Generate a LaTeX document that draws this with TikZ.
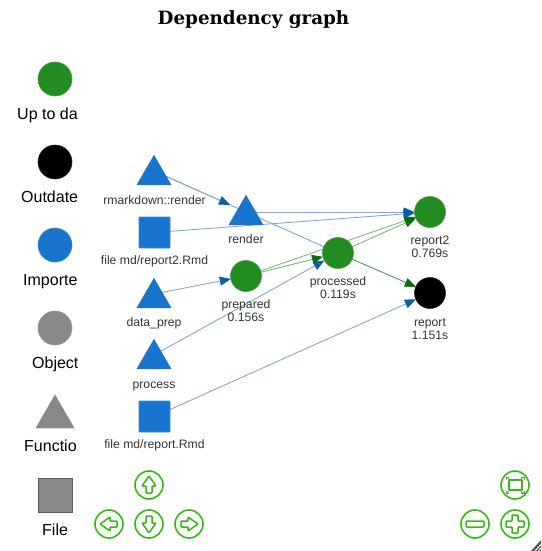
\documentclass[tikz,border=0pt]{standalone}
\usepackage{fontspec}
\setmainfont{Liberation Sans}
\newfontfamily\titlefont{DejaVu Serif}
\usetikzlibrary{shapes.geometric,arrows.meta,backgrounds}
\definecolor{ngreen}{HTML}{228B22}
\definecolor{nblue}{HTML}{1874CD}
\definecolor{ngrey}{HTML}{888888}
\definecolor{lblue}{HTML}{7FA9DC}
\definecolor{tblue}{HTML}{0B5CB0}
\definecolor{lgreen}{HTML}{7FB77F}
\definecolor{tgreen}{HTML}{0B6E0B}
\definecolor{dgreen}{HTML}{4F9A78}
\definecolor{icongreen}{HTML}{33BB11}
\definecolor{labelgrey}{HTML}{343434}
\tikzset{
  x=1pt,y=-1pt,
  dot/.style={circle,draw=#1!85!white,fill=#1,line width=0.6pt,inner sep=0,minimum size=31pt},
  legdot/.style={circle,draw=#1!85!white,fill=#1,line width=0.6pt,inner sep=0,minimum size=34pt},
  tri/.style={regular polygon,regular polygon sides=3,fill=#1,inner sep=0,minimum size=40.4pt},
  legtri/.style={regular polygon,regular polygon sides=3,fill=#1,inner sep=0,minimum size=45pt},
  sq/.style={rectangle,rounded corners=0.6pt,fill=#1,draw=#1!85!white,line width=0.6pt,inner sep=0,minimum size=31pt},
  legsq/.style={rectangle,fill=#1,draw=#1!70!black,line width=0.6pt,inner sep=0,minimum size=34pt},
  lab/.style={align=center,text=labelgrey,font=\fontsize{12.2}{13}\selectfont,inner sep=0},
  leglab/.style={anchor=base west,text=black,font=\fontsize{16}{18}\selectfont,inner sep=0},
  bedge/.style={draw=lblue,line width=0.9pt,-{Triangle[length=11pt,width=9pt,color=tblue]},shorten >=#1},
  gedge/.style={draw=lgreen,line width=0.9pt,-{Triangle[length=11pt,width=9pt,color=tgreen]},shorten >=#1},
  iconring/.style={circle,draw=icongreen,line width=1.6pt,fill=white,inner sep=0,minimum size=28pt},
  glyph/.style={draw=icongreen,line width=1.5pt,line join=round},
  arrowglyph/.pic={\draw[glyph,rounded corners=0.7pt] (0,-9)--(7,1)--(3,1)--(3,8)--(-3,8)--(-3,1)--(-7,1)--cycle;},
  pluscross/.pic={\draw[glyph,rounded corners=0.7pt] (-3,-9)--(3,-9)--(3,-3)--(9,-3)--(9,3)--(3,3)--(3,9)--(-3,9)--(-3,3)--(-9,3)--(-9,-3)--(-3,-3)--cycle;},
  minusbar/.pic={\draw[glyph,rounded corners=1pt] (-9,-3) rectangle (9,3);},
  fitglyph/.pic={
    \draw[glyph,line width=2pt] (-6.5,-5) rectangle (6.5,5);
    \draw[ngrey,line width=0.9pt] (-9,-8)--(-6,-6.5) (9,-8)--(6,-6.5) (-9,8)--(-6,6.5) (9,8)--(6,6.5);
    \draw[ngrey,line width=0.9pt] (-9,-5.5)--(-9,-8)--(-6,-8) (9,-5.5)--(9,-8)--(6,-8) (-9,5.5)--(-9,8)--(-6,8) (9,5.5)--(9,8)--(6,8);}
}
\begin{document}
\begin{tikzpicture}
\useasboundingbox (0,0) rectangle (541,551);
\node[font=\titlefont\bfseries\fontsize{18.3}{20}\selectfont,inner sep=0] (title) at (253.5,20) {Dependency graph};
% legend
\node[legdot=ngreen] (legup) at (55,79) {};
\node[legdot=black] (legout) at (55,162) {};
\node[legdot=nblue] (legimp) at (55,245) {};
\node[legdot=ngrey] (legobj) at (55,328) {};
\node[legtri=ngrey] (legfun) at (55,417) {};
\node[legsq=ngrey] (legfile) at (55,495) {};
\begin{scope}
\clip (0,0) rectangle (77,551);
\node[leglab] (tup) at (17,119) {Up to da};
\node[leglab] (tout) at (21,202) {Outdate};
\node[leglab] (timp) at (23,285) {Importe};
\node[leglab] (tobj) at (32,368) {Object};
\node[leglab] (tfun) at (24,451.5) {Functio};
\node[leglab] (tfile) at (42,535) {File};
\end{scope}
% graph nodes
\node[tri=nblue] (rmd) at (154,175) {};
\node[sq=nblue] (frep2) at (154.5,232.5) {};
\node[tri=nblue] (render) at (246,215) {};
\node[dot=ngreen] (prepared) at (246,276) {};
\node[tri=nblue] (dataprep) at (154,298) {};
\node[tri=nblue] (process) at (154,359) {};
\node[sq=nblue] (frep) at (154.5,416.5) {};
\node[dot=ngreen] (processed) at (338,253) {};
\node[dot=ngreen] (report2) at (430,212) {};
\node[dot=black] (report) at (430,293) {};
% labels
\node[lab] (lrmd) at (154.5,200) {rmarkdown::render};
\node[lab] (lfrep2) at (154.5,261) {file md/report2.Rmd};
\node[lab] (lrender) at (246,239) {render};
\node[lab] (lprepared) at (246,310.5) {prepared\\0.156s};
\node[lab] (ldataprep) at (154,323) {data\_prep};
\node[lab] (lprocess) at (154,386.5) {process};
\node[lab] (lfrep) at (154.5,445.5) {file md/report.Rmd};
\node[lab] (lprocessed) at (338,287.5) {processed\\0.119s};
\node[lab] (lreport2) at (430,246.5) {report2\\0.769s};
\node[lab] (lreport) at (430,329.5) {report\\1.151s};
% edges
\begin{scope}[on background layer]
\draw[draw=lblue,line width=0.9pt] ([yshift=4pt]rmd.center) -- (processed.center);
\draw[bedge=17.5pt] ([yshift=4pt]rmd.center) -- ([yshift=3pt]render.center);
\draw[bedge=15.5pt] ([yshift=3pt]render.center) -- (report2.center);
\draw[bedge=15.5pt] (frep2.center) -- (report2.center);
\draw[bedge=15.5pt] ([yshift=4pt]dataprep.center) -- (prepared.center);
\draw[bedge=15.5pt] ([yshift=4pt]process.center) -- (processed.center);
\draw[bedge=15.5pt] (frep.center) -- (report.center);
\draw[gedge=15.5pt] (prepared.center) -- (processed.center);
\draw[gedge=15.5pt] (prepared.center) -- (report2.center);
\draw[gedge=15.5pt] (processed.center) -- (report2.center);
\draw[gedge=15.5pt,draw=dgreen] (processed.center) -- (report.center);
\end{scope}
% navigation icons
\node[iconring] (iconup) at (149,485) {};
\node[iconring] (iconleft) at (109,524) {};
\node[iconring] (icondown) at (149,524) {};
\node[iconring] (iconright) at (189,524) {};
\node[iconring] (iconfit) at (515,485) {};
\node[iconring] (iconminus) at (475,524) {};
\node[iconring] (iconplus) at (515,524) {};
\pic at (iconup) {arrowglyph};
\pic[rotate=90] at (iconleft) {arrowglyph};
\pic[rotate=180] at (icondown) {arrowglyph};
\pic[rotate=-90] at (iconright) {arrowglyph};
\pic at (iconfit) {fitglyph};
\pic at (iconminus) {minusbar};
\pic at (iconplus) {pluscross};
% resize handle
\fill[black!65] (531,551) -- (541,540) -- (541,551) -- cycle;
\draw[white,line width=0.9pt] (535,551) -- (541,544.5) (538.5,551) -- (541,548);
\end{tikzpicture}
\end{document}
